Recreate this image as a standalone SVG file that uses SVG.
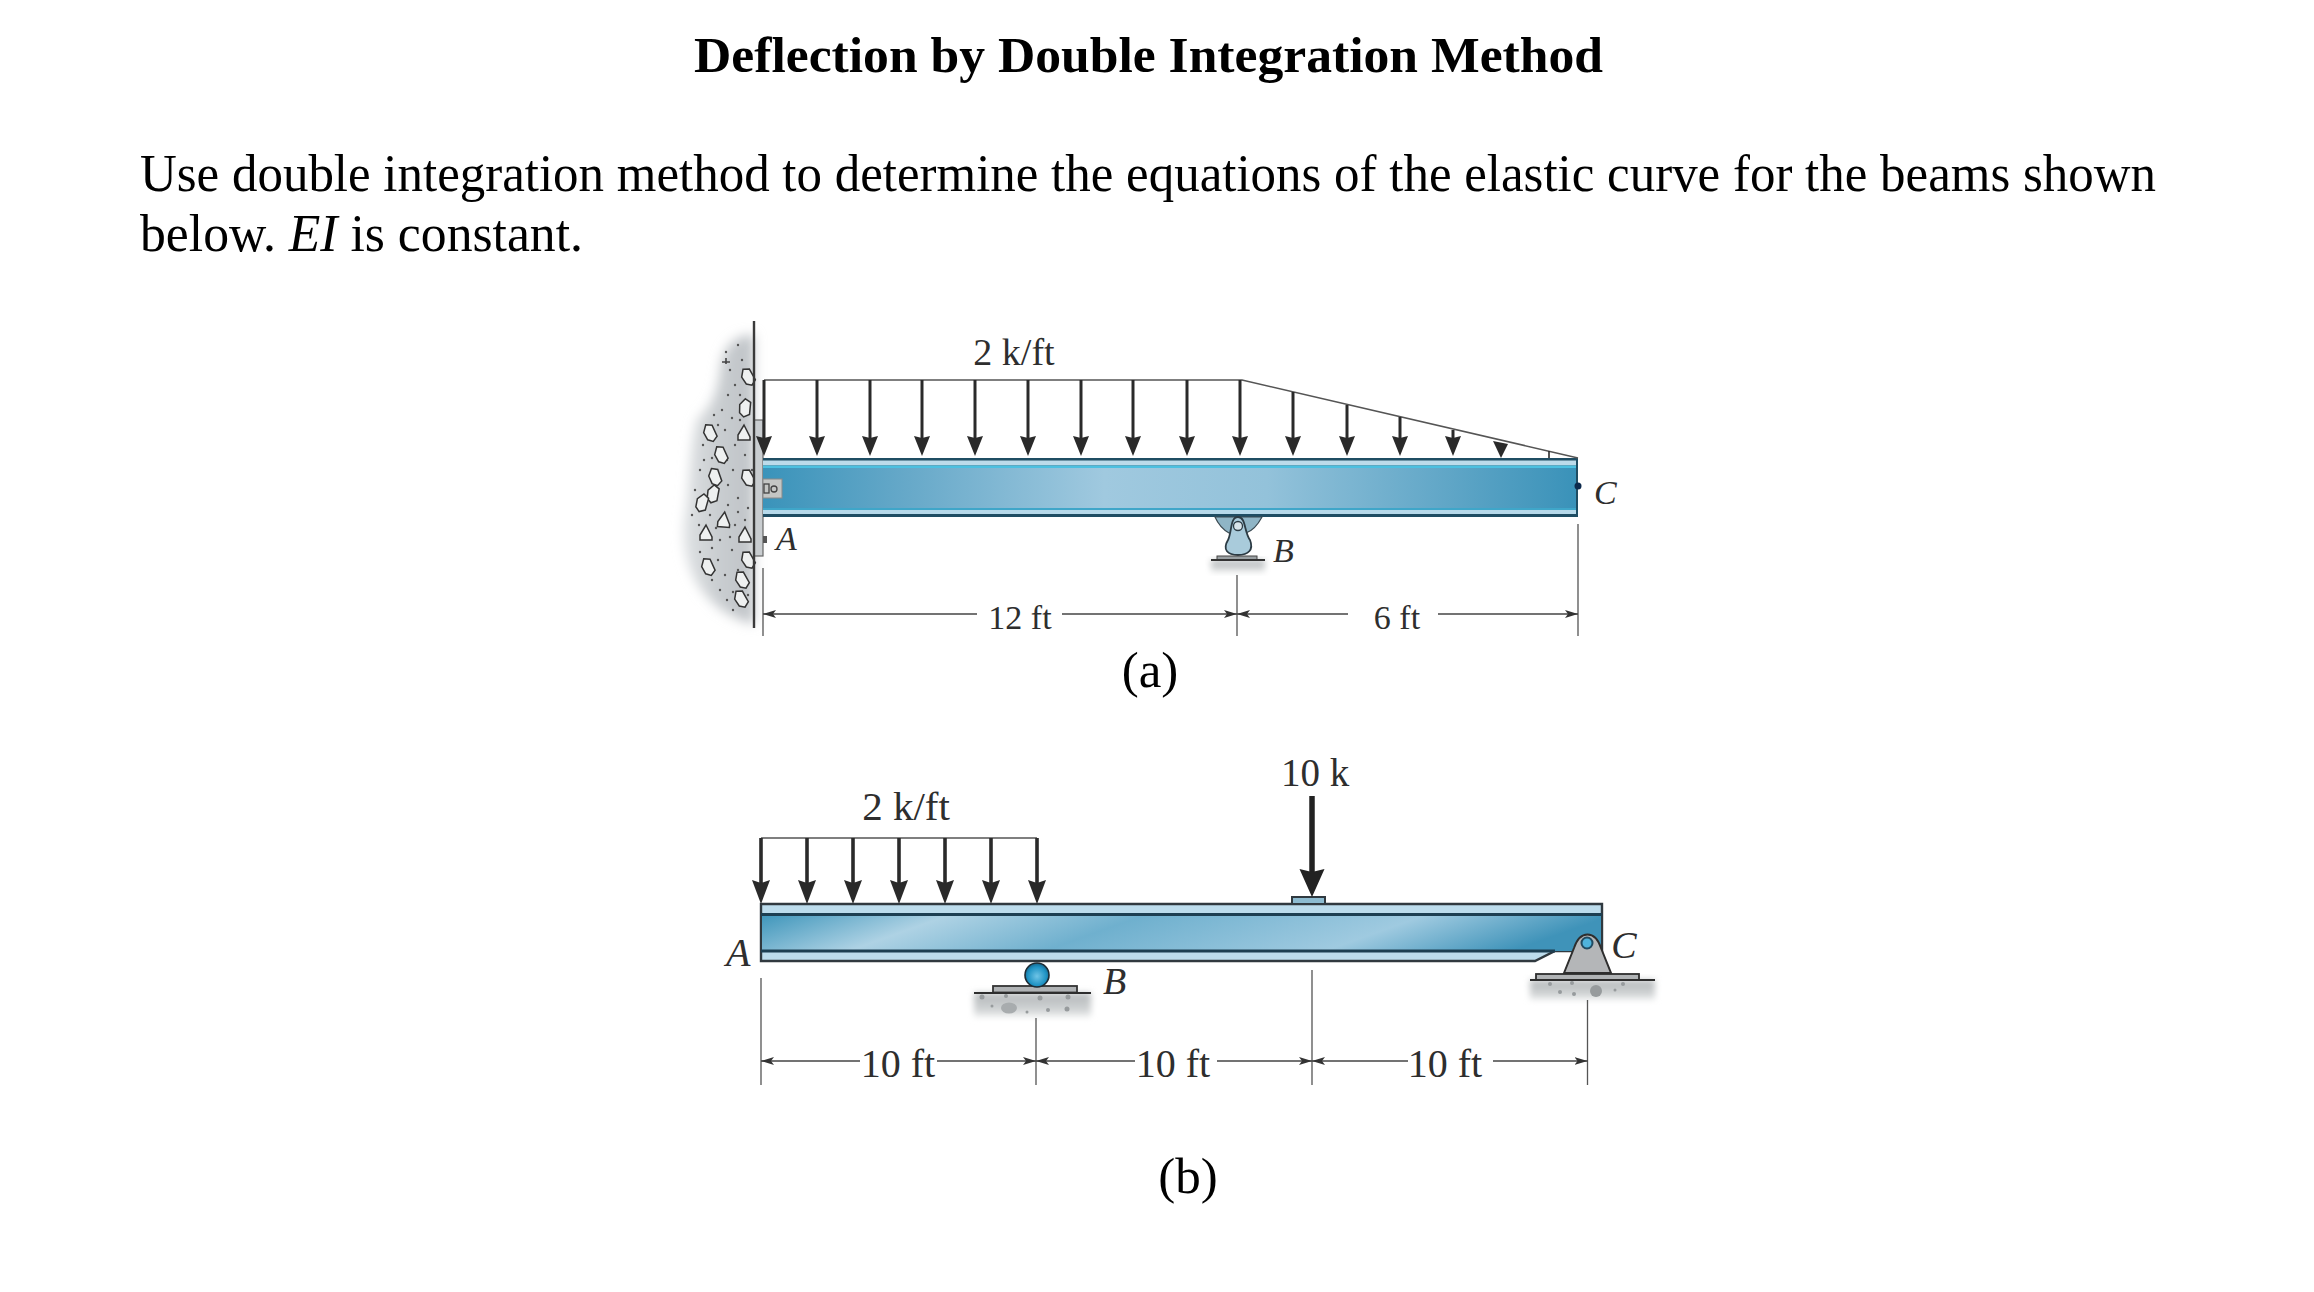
<svg xmlns="http://www.w3.org/2000/svg" xmlns:xlink="http://www.w3.org/1999/xlink" width="2314" height="1292" viewBox="0 0 2314 1292">
<style>
text{font-family:"Liberation Serif","Times New Roman",serif}
.h{fill:#000}
.t{fill:#2e2e2e}
.i{font-style:italic}
.load{stroke:#2a2a2a;stroke-width:3;fill:none;marker-end:url(#ah)}
.load2{stroke:#2a2a2a;stroke-width:3.6;fill:none;marker-end:url(#ah2)}
.cap{stroke:#555;stroke-width:1.6;fill:none}
.dim{stroke:#444;stroke-width:1.3;fill:none;marker-end:url(#dh)}
.ext{stroke:#555;stroke-width:1.3;fill:none}
.stone{fill:#eef0f0;stroke:#333;stroke-width:1.5}
.d{fill:#555}
</style>
<defs>
<marker id="ah" markerUnits="userSpaceOnUse" markerWidth="18" markerHeight="24" refX="8" refY="15" orient="0"><path d="M0,0 L8,2 L16,0 L8,20Z" fill="#2a2a2a"/></marker>
<marker id="ah2" markerUnits="userSpaceOnUse" markerWidth="20" markerHeight="26" refX="9" refY="19" orient="0"><path d="M0,0 L9,3 L18,0 L9,24Z" fill="#2a2a2a"/></marker>
<marker id="dh" markerUnits="userSpaceOnUse" markerWidth="14" markerHeight="10" refX="13" refY="4" orient="auto"><path d="M0,0 L13,4 L0,8 L3,4Z" fill="#333"/></marker>
<linearGradient id="webA" x1="0" x2="1" y1="0" y2="0"><stop offset="0" stop-color="#3a93ba"/><stop offset=".18" stop-color="#67a9c9"/><stop offset=".42" stop-color="#a0c9df"/><stop offset=".62" stop-color="#93c2da"/><stop offset=".85" stop-color="#5ea5c6"/><stop offset="1" stop-color="#3a92b9"/></linearGradient>
<linearGradient id="webB" x1="0" x2="1" y1="0" y2=".12"><stop offset="0" stop-color="#3f96bb"/><stop offset=".22" stop-color="#aed2e4"/><stop offset=".45" stop-color="#6fb0ce"/><stop offset=".78" stop-color="#9fcae0"/><stop offset="1" stop-color="#3f93b9"/></linearGradient>
<radialGradient id="ball" cx=".5" cy=".55" r=".55"><stop offset="0" stop-color="#6fc4e6"/><stop offset=".7" stop-color="#1f93c4"/><stop offset="1" stop-color="#17658a"/></radialGradient>
<linearGradient id="grd" x1="0" x2="0" y1="0" y2="1"><stop offset="0" stop-color="#b4b8ba"/><stop offset=".7" stop-color="#d0d3d4"/><stop offset="1" stop-color="#f0f1f1"/></linearGradient>
<linearGradient id="wallG" x1="0" x2="1" y1="0" y2="0"><stop offset="0" stop-color="#dfe2e4"/><stop offset=".5" stop-color="#c9cdd0"/><stop offset="1" stop-color="#bfc3c7"/></linearGradient>
<filter id="bl" x="-30%" y="-20%" width="160%" height="140%"><feGaussianBlur stdDeviation="6"/></filter>
<filter id="bl2" x="-10%" y="-30%" width="120%" height="160%"><feGaussianBlur stdDeviation="3"/></filter>
<path id="st" d="M-2,-9 L4,-7 L6,5 L1,9 L-4,6 L-6,-2Z" class="stone"/>
<path id="st2" d="M0,-8 L6,4 L6,7 L-6,7 L-6,2Z" class="stone"/>
</defs>

<g id="header">
<text class="h" x="694" y="72" font-size="50" font-weight="700" textLength="909" lengthAdjust="spacingAndGlyphs">Deflection by Double Integration Method</text>
<text class="h" x="140" y="191" font-size="52" textLength="2016" lengthAdjust="spacingAndGlyphs">Use double integration method to determine the equations of the elastic curve for the beams shown</text>
<text class="h" x="140" y="251" font-size="52" textLength="443" lengthAdjust="spacingAndGlyphs">below. <tspan class="i">EI</tspan> is constant.</text>
</g>

<g id="wall-a">
<path d="M754,335 C735,335 723,345 720,370 C717,395 712,405 697,420 C689,450 690,480 686,510 C680,540 686,565 698,585 C712,607 735,620 754,624Z" fill="url(#wallG)" filter="url(#bl)"/>
<g class="d">
<circle cx="726" cy="352" r="1.2"/><circle cx="738" cy="345" r="1.2"/><circle cx="730" cy="370" r="1.2"/><circle cx="742" cy="360" r="1.2"/><circle cx="735" cy="385" r="1.2"/><circle cx="722" cy="410" r="1.2"/><circle cx="732" cy="418" r="1.2"/><circle cx="714" cy="415" r="1.2"/><circle cx="725" cy="430" r="1.2"/><circle cx="703" cy="445" r="1.2"/><circle cx="735" cy="445" r="1.2"/><circle cx="745" cy="455" r="1.2"/><circle cx="712" cy="458" r="1.2"/><circle cx="733" cy="470" r="1.2"/><circle cx="700" cy="470" r="1.2"/><circle cx="728" cy="485" r="1.2"/><circle cx="738" cy="498" r="1.2"/><circle cx="692" cy="515" r="1.2"/><circle cx="748" cy="508" r="1.2"/><circle cx="710" cy="515" r="1.2"/><circle cx="699" cy="525" r="1.2"/><circle cx="735" cy="525" r="1.2"/><circle cx="720" cy="540" r="1.2"/><circle cx="700" cy="552" r="1.2"/><circle cx="732" cy="550" r="1.2"/><circle cx="718" cy="560" r="1.2"/><circle cx="725" cy="575" r="1.2"/><circle cx="720" cy="590" r="1.2"/><circle cx="733" cy="592" r="1.2"/><circle cx="748" cy="595" r="1.2"/><circle cx="727" cy="600" r="1.2"/><circle cx="752" cy="470" r="1.2"/><circle cx="745" cy="520" r="1.2"/><circle cx="708" cy="495" r="1.2"/><circle cx="695" cy="490" r="1.2"/>
<circle cx="740" cy="395" r="1.2"/><circle cx="728" cy="395" r="1.2"/><circle cx="718" cy="425" r="1.2"/><circle cx="740" cy="420" r="1.2"/><circle cx="704" cy="460" r="1.2"/><circle cx="727" cy="460" r="1.2"/><circle cx="728" cy="505" r="1.2"/><circle cx="738" cy="512" r="1.2"/><circle cx="716" cy="528" r="1.2"/><circle cx="730" cy="537" r="1.2"/><circle cx="712" cy="548" r="1.2"/><circle cx="738" cy="570" r="1.2"/><circle cx="712" cy="580" r="1.2"/><circle cx="733" cy="610" r="1.2"/>
</g>
<path d="M722,362 L730,362 M726,358 L726,364" stroke="#444" stroke-width="1.6"/>
<use xlink:href="#st" href="#st" transform="translate(748 377) rotate(-20)"/>
<use xlink:href="#st" href="#st" transform="translate(745 408) rotate(15)"/>
<use xlink:href="#st2" href="#st2" transform="translate(744 433)"/>
<use xlink:href="#st" href="#st" transform="translate(710 433) rotate(-15)"/>
<use xlink:href="#st" href="#st" transform="translate(721 455) rotate(-15)"/>
<use xlink:href="#st" href="#st" transform="translate(748 478) rotate(-20)"/>
<use xlink:href="#st" href="#st" transform="translate(715 477) rotate(-10)"/>
<use xlink:href="#st" href="#st" transform="translate(713 494) rotate(20)"/>
<use xlink:href="#st" href="#st" transform="translate(702 503) rotate(25)"/>
<use xlink:href="#st2" href="#st2" transform="translate(724 520) rotate(5)"/>
<use xlink:href="#st2" href="#st2" transform="translate(706 533)"/>
<use xlink:href="#st2" href="#st2" transform="translate(745 535)"/>
<use xlink:href="#st" href="#st" transform="translate(708 567) rotate(-15)"/>
<use xlink:href="#st" href="#st" transform="translate(748 560) rotate(-20)"/>
<use xlink:href="#st" href="#st" transform="translate(742 580) rotate(-20)"/>
<use xlink:href="#st" href="#st" transform="translate(741 599) rotate(-20)"/>
<rect x="754" y="420" width="9" height="136" fill="#c9cdd0" stroke="#666" stroke-width="1.2"/>
<path d="M754,321 V628" stroke="#3a3a3a" stroke-width="2.4"/>
<rect x="763" y="536" width="4" height="7" fill="#555"/>
</g>

<g id="beam-a">
<rect x="763" y="458" width="815" height="59" fill="#1f4d63"/>
<rect x="763" y="460.500" width="813" height="5" fill="#bcdbea"/>
<rect x="763" y="465.500" width="813" height="2.500" fill="#4cc0e0"/>
<rect x="763" y="468" width="813" height="40" fill="url(#webA)"/>
<rect x="763" y="508" width="813" height="2" fill="#3fa6c9"/>
<rect x="763" y="510" width="813" height="4" fill="#b6d9ea"/>
<rect x="763" y="479" width="19" height="19" fill="#c4c6c4" stroke="#8a8a8a"/>
<rect x="764" y="484" width="5" height="9" fill="none" stroke="#444" stroke-width="1.3"/>
<circle cx="774" cy="489" r="3" fill="none" stroke="#444" stroke-width="1.3"/>
<circle cx="1578" cy="486" r="3.500" fill="#0d2a4d"/>
</g>

<g id="support-b-a">
<path d="M1215,517 L1262,517 Q1255,530 1246,533 L1229,533 Q1220,528 1215,517Z" fill="#8fb5c6" stroke="#3b4a52" stroke-width="1.2"/>
<path d="M1238,517 C1230,517 1232,532 1228,540 C1222,550 1228,555 1238,555 C1248,555 1254,550 1250,540 C1244,532 1246,517 1238,517Z" fill="#a9cbdb" stroke="#2c3b44" stroke-width="1.8"/>
<circle cx="1238" cy="526" r="4.500" fill="#d8e4ea" stroke="#2c3b44" stroke-width="1.3"/>
<rect x="1211" y="560" width="54" height="12" fill="url(#grd)" filter="url(#bl2)"/>
<rect x="1217" y="556" width="40" height="4" fill="#9aa0a3" stroke="#444"/>
<path d="M1211,560 H1265" stroke="#333" stroke-width="1.8"/>
</g>

<g id="load-a">
<path class="cap" d="M764,380 H1242 L1578,458"/>
<path class="load" d="M764,380 V451"/>
<path class="load" d="M817,380 V451"/>
<path class="load" d="M870,380 V451"/>
<path class="load" d="M922,380 V451"/>
<path class="load" d="M975,380 V451"/>
<path class="load" d="M1028,380 V451"/>
<path class="load" d="M1081,380 V451"/>
<path class="load" d="M1133,380 V451"/>
<path class="load" d="M1187,380 V451"/>
<path class="load" d="M1240,380 V451"/>
<path class="load" d="M1293,392 V451"/>
<path class="load" d="M1347,405 V451"/>
<path class="load" d="M1400,417 V451"/>
<path class="load" d="M1453,430 V451"/>
<path d="M1493,441 L1508,444 L1501,458Z" fill="#2a2a2a"/>
<path d="M1549,451 V458" stroke="#2a2a2a" stroke-width="1.6"/>
</g>

<g id="connectors-a">
<path class="ext" d="M763,568 V636 M1237,575 V636 M1578,524 V636"/>
<path class="dim" d="M977,614 H763"/>
<path class="dim" d="M1062,614 H1237"/>
<path class="dim" d="M1348,614 H1237"/>
<path class="dim" d="M1438,614 H1578"/>
</g>

<g id="labels-a">
<text class="t" x="1014" y="365" font-size="38" text-anchor="middle">2 k/ft</text>
<text class="t i" x="776" y="550" font-size="34">A</text>
<text class="t i" x="1273" y="562" font-size="34">B</text>
<text class="t i" x="1594" y="504" font-size="34">C</text>
<text class="t" x="1020" y="629" font-size="34" text-anchor="middle">12 ft</text>
<text class="t" x="1397" y="629" font-size="34" text-anchor="middle">6 ft</text>
<text class="h" x="1150" y="687" font-size="51" text-anchor="middle">(a)</text>
</g>

<g id="beam-b">
<path d="M761,904 H1602 V951 H1555 L1535,961 H761Z" fill="#bcdcec" stroke="#30393f" stroke-width="2.4"/>
<rect x="762" y="915" width="839" height="36" fill="url(#webB)"/>
<path d="M761,914.500 H1602 M761,951 H1555" stroke="#1d3f52" stroke-width="3"/>
<rect x="1292" y="897" width="33" height="7" fill="#8dbbd0" stroke="#30393f" stroke-width="2"/>
</g>

<g id="support-b-b">
<rect x="974" y="993" width="117" height="24" fill="url(#grd)" filter="url(#bl2)"/>
<ellipse cx="1009" cy="1008" rx="8" ry="5.500" fill="#a8acae"/>
<g fill="#979b9d"><circle cx="982" cy="997" r="2.500"/><circle cx="1006" cy="996" r="2"/><circle cx="1040" cy="998" r="2.500"/><circle cx="1068" cy="997" r="2.500"/><circle cx="1048" cy="1010" r="2"/><circle cx="1027" cy="1012" r="1.500"/><circle cx="1067" cy="1009" r="2.500"/><circle cx="992" cy="1006" r="1.500"/></g>
<rect x="993" y="986" width="84" height="6.500" fill="#b0b3b5" stroke="#333" stroke-width="1.8"/>
<path d="M974,993 H1091" stroke="#2e2e2e" stroke-width="2"/>
<circle cx="1037" cy="975" r="12" fill="url(#ball)" stroke="#1c2a33" stroke-width="1.6"/>
</g>

<g id="support-c-b">
<rect x="1530" y="980" width="125" height="20" fill="url(#grd)" filter="url(#bl2)"/>
<g fill="#979b9d"><circle cx="1550" cy="984" r="2"/><circle cx="1572" cy="983" r="2"/><circle cx="1596" cy="991" r="6"/><circle cx="1623" cy="984" r="2"/><circle cx="1615" cy="990" r="1.500"/><circle cx="1560" cy="992" r="2"/><circle cx="1574" cy="994" r="2"/></g>
<path d="M1564,973 L1574,948 C1580,930 1595,930 1601,948 L1611,973Z" fill="#b4b6b8" stroke="#2e2e2e" stroke-width="2"/>
<circle cx="1587" cy="943" r="5.500" fill="#4fb3dc" stroke="#214b61" stroke-width="2"/>
<rect x="1536" y="974" width="103" height="6" fill="#b0b3b5" stroke="#2e2e2e" stroke-width="1.8"/>
<path d="M1530,980 H1655" stroke="#2e2e2e" stroke-width="2"/>
</g>

<g id="load-b">
<path class="cap" d="M761,838 H1037"/>
<path class="load2" d="M761,838 V899"/>
<path class="load2" d="M807,838 V899"/>
<path class="load2" d="M853,838 V899"/>
<path class="load2" d="M899,838 V899"/>
<path class="load2" d="M945,838 V899"/>
<path class="load2" d="M991,838 V899"/>
<path class="load2" d="M1037,838 V899"/>
<path d="M1312,796 V880" stroke="#222" stroke-width="5.500" fill="none"/>
<path d="M1299.500,869 L1312,872 L1324.500,869 L1312,897Z" fill="#222"/>
</g>

<g id="connectors-b">
<path class="ext" d="M761,978 V1085 M1036,1018 V1085 M1312,970 V1085 M1587.500,1000 V1085"/>
<path class="dim" d="M860,1061 H761"/>
<path class="dim" d="M937,1061 H1036"/>
<path class="dim" d="M1135,1061 H1036"/>
<path class="dim" d="M1217,1061 H1312"/>
<path class="dim" d="M1408,1061 H1312"/>
<path class="dim" d="M1493,1061 H1587.500"/>
</g>

<g id="labels-b">
<text class="t" x="906" y="820" font-size="41" text-anchor="middle">2 k/ft</text>
<text class="t" x="1315" y="786" font-size="39" text-anchor="middle">10 k</text>
<text class="t i" x="726" y="966" font-size="40">A</text>
<text class="t i" x="1103" y="994" font-size="38">B</text>
<text class="t i" x="1624" y="958" font-size="38" text-anchor="middle">C</text>
<text class="t" x="898" y="1077" font-size="40" text-anchor="middle">10 ft</text>
<text class="t" x="1173" y="1077" font-size="40" text-anchor="middle">10 ft</text>
<text class="t" x="1445" y="1077" font-size="40" text-anchor="middle">10 ft</text>
<text class="h" x="1188" y="1193" font-size="51" text-anchor="middle">(b)</text>
</g>
</svg>
